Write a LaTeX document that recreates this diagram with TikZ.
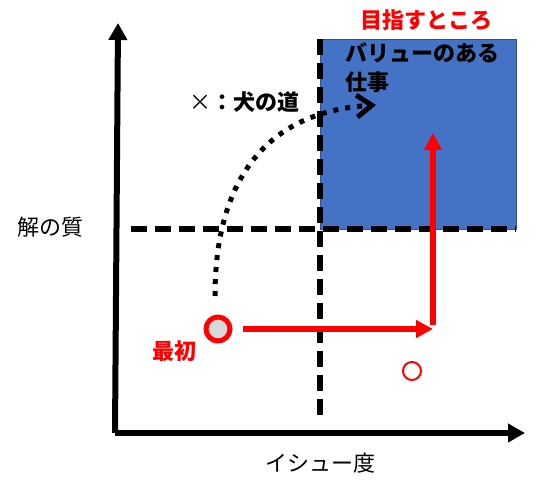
\documentclass[tikz,border=0pt]{standalone}
\usepackage{fontspec}
\newfontfamily\jp{Noto Sans CJK JP}
\usetikzlibrary{arrows.meta}
\definecolor{boxblue}{HTML}{4472C4}
\definecolor{boxedge}{HTML}{2F528F}
\definecolor{dotgray}{HTML}{D9D9D9}
\tikzset{
  axis/.style={line width=6pt,-{Triangle[length=17pt,width=18pt]}},
  splitline/.style={line width=6pt,dash pattern=on 16pt off 8pt},
  redarrow/.style={red,line width=6pt,-{Triangle[length=17pt,width=17pt]}},
  dogpath/.style={line width=5pt,dash pattern=on 5pt off 7pt,-{Straight Barb[length=15pt,width=22pt,line width=5pt]}},
  lbl/.style={inner sep=0pt,font=\jp\fontsize{22}{29}\selectfont},
  blbl/.style={lbl,font=\jp\bfseries\fontsize{22}{29}\selectfont}
}
\begin{document}
\begin{tikzpicture}[x=1pt,y=-1pt]
\useasboundingbox (0,0) rectangle (544,494);
% goal box
\node[draw=boxedge,fill=boxblue,line width=1pt,minimum width=196pt,minimum height=190pt,inner sep=0pt,anchor=north west] (goal) at (320,39) {};
% axes
\coordinate (O) at (118,433);
\coordinate (ytop) at (118,23);
\coordinate (xend) at (525,433);
\draw[axis] (115,433) -- (ytop);
\draw[axis] (O) ++(-3,0) coordinate (O2) (O2) -- (xend);
% split lines
\coordinate (vtop) at (320,39);
\coordinate (vbot) at (320,417);
\coordinate (hleft) at (131,229);
\coordinate (hright) at (516,229);
\draw[splitline] (vtop) -- (vbot);
\draw[splitline] (hleft) -- (hright);
% dog path
\coordinate (dogA) at (215,296);
\coordinate (dogB) at (376,105);
\draw[dogpath] (dogA) .. controls (215,185) and (262,112) .. (dogB);
% start point
\node[circle,draw=red,fill=dotgray,line width=5pt,minimum size=24pt,inner sep=0pt] (start) at (218,329) {};
\coordinate (turn) at (433,329);
\coordinate (turnup) at (433,325);
\coordinate (top) at (433,133);
\draw[redarrow] (start.east) ++(10,0) coordinate (s2) (s2) -- (turn);
\draw[redarrow] (turnup) -- (top);
\node[circle,draw=red,line width=2pt,minimum size=18pt,inner sep=0pt] (other) at (412,371) {};
% labels
\node[blbl,text=red] (goaltitle) at (426,20) {目指すところ};
\node[blbl,anchor=west] (val1) at (345,53) {バリューのある};
\node[blbl,anchor=west] (val2) at (345,82) {仕事};
\node[blbl] (dog) at (244,102) {{\mdseries ×}：犬の道};
\node[blbl,text=red] (first) at (174,351) {最初};
\node[lbl] (xlabel) at (320,463) {イシュー度};
\node[lbl] (ylabel) at (50,227) {解の質};
\end{tikzpicture}
\end{document}
